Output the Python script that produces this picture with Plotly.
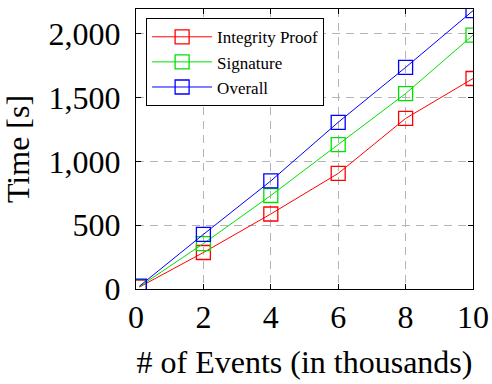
import plotly.graph_objects as go

events = [0.1, 2, 4, 6, 8, 10]
integrity_proof = [15, 286, 588, 906, 1337, 1650]
signature = [18, 356, 733, 1132, 1532, 1990]
overall = [22, 428, 847, 1307, 1737, 2182]

series_names = ["Integrity Proof", "Signature", "Overall"]
series_colors = ["#ff0000", "#00e000", "#0000ff"]
x_ticks = [0, 2, 4, 6, 8, 10]
y_ticks = [0, 500, 1000, 1500, 2000]

SERIF = "Liberation Serif, Times New Roman, serif"

fig = go.Figure()
for name, vals, col in zip(series_names, [integrity_proof, signature, overall], series_colors):
    fig.add_trace(go.Scatter(
        x=events, y=vals, name=name, mode="lines+markers",
        line=dict(color=col, width=1),
        marker=dict(symbol="square-open", size=14, color=col, line=dict(width=1.3, color=col)),
    ))

axis_common = dict(
    showline=True, linecolor="black", linewidth=1, mirror="ticks",
    ticks="inside", ticklen=5, tickcolor="black", tickwidth=1,
    showgrid=True, gridcolor="#b4b4b4", griddash="8px,6px", gridwidth=1,
    zeroline=False, automargin=False,
    tickfont=dict(family=SERIF, size=32, color="black"),
    title_font=dict(family=SERIF, size=32, color="black"),
)

fig.update_layout(
    width=492, height=384,
    margin=dict(l=136, r=19, t=9, b=95),
    paper_bgcolor="white", plot_bgcolor="white",
    xaxis=dict(range=[0, 10], tickvals=x_ticks, title_text="# of Events (in thousands)",
               ticklabelstandoff=0, title_standoff=16, **axis_common),
    yaxis=dict(range=[0, 2195], tickvals=y_ticks, tickformat=",d", title_text="Time [s]",
               ticklabelstandoff=8, title_standoff=25, **axis_common),
    legend=dict(x=0.03, y=0.967, xanchor="left", yanchor="top",
                bgcolor="white", bordercolor="black", borderwidth=1,
                font=dict(family=SERIF, size=17, color="black"),
                itemwidth=60, tracegroupgap=0),
    showlegend=True,
)

fig.write_html("out.html", config={"displayModeBar": False},
               post_script="document.body.style.margin='0';")
